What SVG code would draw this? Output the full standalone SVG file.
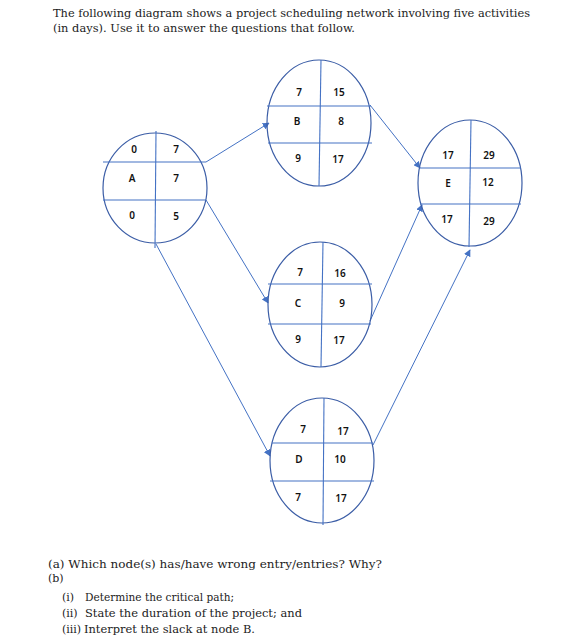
<svg xmlns="http://www.w3.org/2000/svg" width="580" height="641" viewBox="0 0 580 641">
<defs>
<style>
.q{font-family:"DejaVu Serif","Liberation Serif",serif;font-size:11px;fill:#222}
.n{font-family:"Noto Sans","Liberation Sans",sans-serif;font-size:10px;font-weight:600;fill:#111;text-anchor:middle}
.ov{fill:none;stroke:#3B5DA6;stroke-width:1.2}
.g{stroke:#4472C4;stroke-width:1.1;fill:none}
.c{stroke:#4472C4;stroke-width:1;fill:none;marker-end:url(#ah)}
</style>
<marker id="ah" viewBox="0 0 10 10" refX="9" refY="5" markerWidth="7" markerHeight="7" orient="auto" markerUnits="userSpaceOnUse">
<path d="M0,0 L10,5 L0,10 z" fill="#4472C4"/>
</marker>
</defs>
<rect width="580" height="641" fill="#fff"/>
<g id="title">
<text class="q" x="53" y="17" textLength="477" lengthAdjust="spacingAndGlyphs">The following diagram shows a project scheduling network involving five activities</text>
<text class="q" x="53" y="32" textLength="302" lengthAdjust="spacingAndGlyphs">(in days). Use it to answer the questions that follow.</text>
</g>
<g id="connectors">
<line class="c" x1="206" y1="162" x2="269" y2="123"/>
<line class="c" x1="206" y1="200" x2="268" y2="303"/>
<line class="c" x1="156" y1="244" x2="270" y2="456"/>
<line class="c" x1="370" y1="105" x2="420" y2="168"/>
<line class="c" x1="370" y1="321" x2="422" y2="205"/>
<line class="c" x1="373" y1="445" x2="470" y2="250"/>
</g>
<g id="node-A">
<ellipse class="ov" cx="155" cy="188" rx="52" ry="55"/>
<line class="g" x1="103" y1="162" x2="206" y2="162"/>
<line class="g" x1="103" y1="200" x2="206" y2="200"/>
<line class="g" x1="156" y1="131" x2="155" y2="248"/>
<text class="n" x="134" y="153">0</text>
<text class="n" x="176" y="153">7</text>
<text class="n" x="132" y="182">A</text>
<text class="n" x="176" y="182">7</text>
<text class="n" x="132" y="219">0</text>
<text class="n" x="176" y="220">5</text>
</g>
<g id="node-B">
<ellipse class="ov" cx="319" cy="123" rx="52" ry="63"/>
<line class="g" x1="267" y1="106" x2="371" y2="106"/>
<line class="g" x1="268" y1="143" x2="372" y2="143"/>
<line class="g" x1="321" y1="60" x2="319" y2="186"/>
<text class="n" x="299" y="96">7</text>
<text class="n" x="339" y="96">15</text>
<text class="n" x="297" y="125">B</text>
<text class="n" x="341" y="125">8</text>
<text class="n" x="298" y="162">9</text>
<text class="n" x="338" y="163">17</text>
</g>
<g id="node-C">
<ellipse class="ov" cx="320" cy="304.5" rx="52" ry="62.5"/>
<line class="g" x1="268" y1="284" x2="372" y2="284"/>
<line class="g" x1="268" y1="324" x2="371" y2="324"/>
<line class="g" x1="323" y1="242" x2="321" y2="367"/>
<text class="n" x="300" y="276">7</text>
<text class="n" x="340" y="277">16</text>
<text class="n" x="298" y="307">C</text>
<text class="n" x="342" y="307">9</text>
<text class="n" x="298" y="343">9</text>
<text class="n" x="339" y="344">17</text>
</g>
<g id="node-D">
<ellipse class="ov" cx="322" cy="460.5" rx="52" ry="62.5"/>
<line class="g" x1="272" y1="443" x2="373" y2="443"/>
<line class="g" x1="270" y1="481" x2="374" y2="481"/>
<line class="g" x1="324" y1="398" x2="323" y2="525"/>
<text class="n" x="303" y="433">7</text>
<text class="n" x="343" y="435">17</text>
<text class="n" x="299" y="463">D</text>
<text class="n" x="340" y="463">10</text>
<text class="n" x="298" y="501">7</text>
<text class="n" x="341" y="502">17</text>
</g>
<g id="node-E">
<ellipse class="ov" cx="470" cy="183" rx="52" ry="63"/>
<line class="g" x1="420" y1="168" x2="521" y2="168"/>
<line class="g" x1="420" y1="204" x2="521" y2="204"/>
<line class="g" x1="471" y1="120" x2="469" y2="247"/>
<text class="n" x="448" y="159">17</text>
<text class="n" x="489" y="159">29</text>
<text class="n" x="448" y="187">E</text>
<text class="n" x="488" y="186">12</text>
<text class="n" x="447" y="223">17</text>
<text class="n" x="489" y="225">29</text>
</g>
<g id="questions">
<text class="q" x="48" y="568" textLength="334" lengthAdjust="spacingAndGlyphs">(a) Which node(s) has/have wrong entry/entries? Why?</text>
<text class="q" x="48" y="582">(b)</text>
<text class="q" x="62" y="601">(i)</text>
<text class="q" x="85" y="601" textLength="149" lengthAdjust="spacingAndGlyphs">Determine the critical path;</text>
<text class="q" x="62" y="617">(ii)</text>
<text class="q" x="85" y="617" textLength="217" lengthAdjust="spacingAndGlyphs">State the duration of the project; and</text>
<text class="q" x="62" y="633">(iii)</text>
<text class="q" x="84" y="633" textLength="171" lengthAdjust="spacingAndGlyphs">Interpret the slack at node B.</text>
</g>
</svg>
